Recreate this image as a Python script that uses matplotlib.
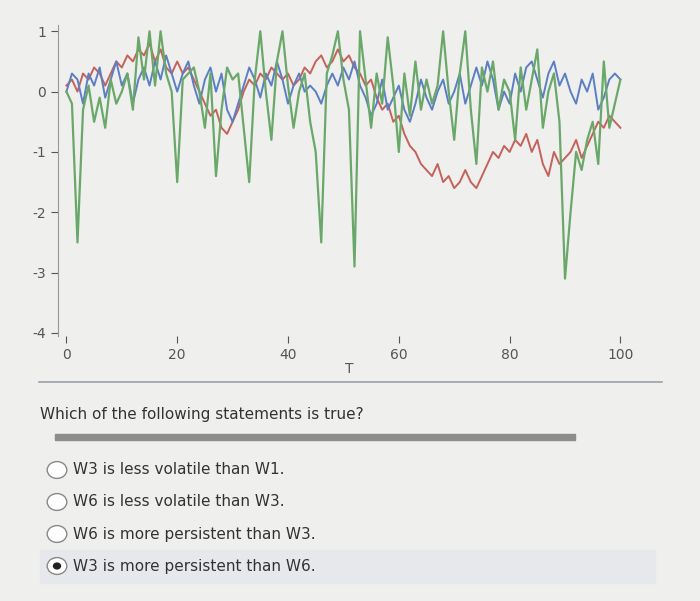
import numpy as np
import matplotlib.pyplot as plt
from matplotlib.patches import Rectangle, Circle

plt.rcParams['axes.unicode_minus'] = False

t = np.arange(101)

w_green = [0, -0.2, -2.5, -0.3, 0.1, -0.5, -0.1, -0.6, 0.2, -0.2,
           0, 0.3, -0.3, 0.9, 0.2, 1.0, 0.1, 1.0, 0.3, 0.0,
           -1.5, 0.2, 0.3, 0.4, 0.0, -0.6, 0.3, -1.4, -0.3, 0.4,
           0.2, 0.3, -0.6, -1.5, 0.2, 1.0, 0.0, -0.8, 0.5, 1.0,
           0.1, -0.6, 0.0, 0.3, -0.5, -1.0, -2.5, 0.3, 0.6, 1.0,
           0.2, -0.3, -2.9, 1.0, 0.2, -0.6, 0.3, -0.2, 0.9, 0.1,
           -1.0, 0.3, -0.4, 0.5, -0.3, 0.2, -0.2, 0.1, 1.0, 0.0,
           -0.8, 0.3, 1.0, -0.3, -1.2, 0.4, 0.0, 0.5, -0.3, 0.2,
           0.0, -0.8, 0.4, -0.3, 0.2, 0.7, -0.6, 0.0, 0.3, -0.5,
           -3.1, -2.0, -1.0, -1.3, -0.8, -0.5, -1.2, 0.5, -0.6, -0.2, 0.2]

w_blue = [0.0, 0.3, 0.2, -0.2, 0.3, 0.1, 0.4, -0.1, 0.2, 0.5,
          0.1, 0.3, -0.2, 0.2, 0.4, 0.1, 0.5, 0.2, 0.6, 0.3,
          0.0, 0.3, 0.5, 0.1, -0.2, 0.2, 0.4, 0.0, 0.3, -0.3,
          -0.5, -0.2, 0.1, 0.4, 0.2, -0.1, 0.3, 0.1, 0.5, 0.2,
          -0.2, 0.1, 0.3, 0.0, 0.1, 0.0, -0.2, 0.1, 0.3, 0.1,
          0.4, 0.2, 0.5, 0.1, -0.1, -0.4, -0.2, 0.2, -0.3, -0.1,
          0.1, -0.3, -0.5, -0.2, 0.2, -0.1, -0.3, 0.0, 0.2, -0.2,
          0.0, 0.3, -0.2, 0.1, 0.4, 0.1, 0.5, 0.2, -0.3, 0.0,
          -0.2, 0.3, 0.0, 0.4, 0.5, 0.2, -0.1, 0.3, 0.5, 0.1,
          0.3, 0.0, -0.2, 0.2, 0.0, 0.3, -0.3, -0.1, 0.2, 0.3, 0.2]

w_red = [0.1, 0.2, 0.0, 0.3, 0.2, 0.4, 0.3, 0.1, 0.3, 0.5, 0.4,
         0.6, 0.5, 0.7, 0.6, 0.8, 0.5, 0.7, 0.4, 0.3, 0.5,
         0.3, 0.4, 0.2, 0.0, -0.2, -0.4, -0.3, -0.6, -0.7, -0.5,
         -0.3, 0.0, 0.2, 0.1, 0.3, 0.2, 0.4, 0.3, 0.2, 0.3,
         0.1, 0.2, 0.4, 0.3, 0.5, 0.6, 0.4, 0.5, 0.7, 0.5,
         0.6, 0.4, 0.3, 0.1, 0.2, -0.1, -0.3, -0.2, -0.5, -0.4,
         -0.7, -0.9, -1.0, -1.2, -1.3, -1.4, -1.2, -1.5, -1.4, -1.6,
         -1.5, -1.3, -1.5, -1.6, -1.4, -1.2, -1.0, -1.1, -0.9, -1.0,
         -0.8, -0.9, -0.7, -1.0, -0.8, -1.2, -1.4, -1.0, -1.2, -1.1,
         -1.0, -0.8, -1.1, -0.9, -0.7, -0.5, -0.6, -0.4, -0.5, -0.6]

options = ["W3 is less volatile than W1.",
           "W6 is less volatile than W3.",
           "W6 is more persistent than W3.",
           "W3 is more persistent than W6."]

bg = '#efefed'
fig = plt.figure(figsize=(7, 6.01), dpi=100, facecolor=bg)

ax = fig.add_axes([0.083, 0.441, 0.831, 0.517])
ax.set_facecolor(bg)
ax.plot(t, w_red, color='#c4625c', lw=1.4)
ax.plot(t, w_blue, color='#5b7fc2', lw=1.4)
ax.plot(t, w_green, color='#6aa86a', lw=1.6)
ax.set_xlim(-1.5, 103.5)
ax.set_ylim(-4.05, 1.1)
ax.set_xticks([0, 20, 40, 60, 80, 100])
ax.set_yticks([1, 0, -1, -2, -3, -4])
ax.tick_params(colors='#555555', labelsize=10, length=5)
for s in ['top', 'right', 'bottom']:
    ax.spines[s].set_visible(False)
ax.spines['left'].set_color('#999999')
ax.set_xlabel('T', color='#555555', fontsize=10, labelpad=0)

# quiz area below the chart
fig.add_artist(plt.Line2D([0.055, 0.945], [1 - 382/601] * 2, color='#9aa0aa', lw=1.2))
fig.text(40/700, 1 - 415/601, "Which of the following statements is true?",
         fontsize=11, color='#333333', va='center')
fig.add_artist(Rectangle((55/700, 1 - 440/601), 520/700, 6/601, color='#8c8c8c'))
fig.add_artist(Rectangle((40/700, 1 - 583/601), 615/700, 33/601, color='#e6e8ec'))
for i, txt in enumerate(options):
    y = 1 - (470 + 32 * i) / 601
    fig.add_artist(Circle((57/700, y), 0.014, transform=fig.transFigure,
                          facecolor='white', edgecolor='#888888', lw=1))
    if i == 3:
        fig.add_artist(Circle((57/700, y), 0.006, transform=fig.transFigure,
                              facecolor='#222222'))
    fig.text(73/700, y, txt, fontsize=11, color='#333333', va='center')

fig.savefig('out.png', facecolor=bg)
